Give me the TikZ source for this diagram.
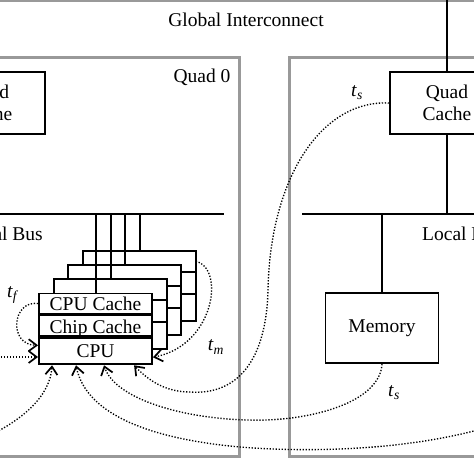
\documentclass[tikz,border=0pt]{standalone}
\usepackage{fontspec}
\setmainfont{Liberation Serif}
\usetikzlibrary{arrows.meta,positioning,calc}
\newcommand{\lat}[1]{\textit{t}\textsubscript{\textit{#1}}}

\begin{document}
\begin{tikzpicture}[x=1pt,y=-1pt,
    every node/.append style={font=\fontsize{19.5}{22}\selectfont,inner sep=0pt},
    box/.style={draw,line width=1.9pt,fill=white,align=center},
    quad/.style={draw=black!40,line width=3pt},
    wire/.style={line width=1.9pt},
    board/.style={box,minimum width=113,outer sep=0pt},
    lat/.style={line width=1.35pt,dash pattern=on 1.3pt off 1.7pt,-{Straight Barb[length=8pt,width=12pt,line width=1.7pt]}}]
    \useasboundingbox (0,0) rectangle (474,474);
    \clip (0,0) rectangle (474,474);

    % global interconnect and the two quads
    \coordinate (giW) at (-5,0.5);
    \coordinate (giE) at (480,0.5);
    \draw[quad] (giW) -- (giE);
    \draw[quad] (-170,57) rectangle (239,456);
    \draw[quad] (289,57) rectangle (698,456);
    \node (gi) at (246,20) {Global Interconnect};
    \node (q0) at (202,77) {Quad 0};

    % local buses
    \coordinate (busLw) at (-156,214);
    \coordinate (busLe) at (224,214);
    \coordinate (busRw) at (302,214);
    \coordinate (busRe) at (684,214);
    \draw[wire] (busLw) -- (busLe);
    \draw[wire] (busRw) -- (busRe);
    \node[anchor=west] (lbL) at (-37,234) {Local Bus};
    \node[anchor=west] (lbR) at (422,234) {Local Bus};

    % quad caches and memory
    \node[box,minimum width=114,minimum height=62] (qcL) at (-12,103) {Quad\\Cache};
    \node[box,minimum width=114,minimum height=62] (qcR) at (447,103) {Quad\\Cache};
    \node[box,minimum width=113,minimum height=70] (mem) at (382,328) {Memory};
    \coordinate (gtop) at (447,-2);
    \draw[wire] (gtop) -- (qcR.north);
    \draw[wire] (qcR.south) -- (qcR.south |- busRw);
    \draw[wire] (mem.north) -- (mem.north |- busRw);

    % processor boards, back to front
    \foreach \k in {3,2,1} {
      \begin{scope}[shift={(14.6*\k,-14.3*\k)}]
        \node[board,minimum height=21] (cc\k) at (95.5,304) {};
        \node[board,minimum height=22,below=0pt of cc\k] (ch\k) {};
        \node[board,minimum height=27,below=0pt of ch\k] (cpu\k) {};
        \coordinate (tap\k) at (96,293.5);
      \end{scope}
    }
    \node[box,minimum width=113,minimum height=20] (cc0) at (95.5,303.5) {CPU Cache};
    \node[box,minimum width=113,minimum height=21,text height=15pt,text depth=0pt,below=0pt of cc0] (ch0) {Chip Cache};
    \node[box,minimum width=113,minimum height=26,below=0pt of ch0] (cpu0) {CPU};
    \coordinate (tap0) at (96,293.5);
    \foreach \k in {0,...,3} \draw[wire] (tap\k) -- (tap\k |- busLe);

    % latencies
    \draw[lat] (cc0.west) .. controls (12,300) and (8,345) .. ($(cpu0.west)+(0,-6)$);
    \coordinate (inL) at (-5,357);
    \draw[lat] (inL) -- (inL -| cpu0.west);
    \draw[lat] (cc3.east) .. controls (225,268) and (215,345) .. ($(cpu0.east)+(0,6)$);
    \coordinate (b1) at ($(cpu0.south west)+(14,0)$);
    \coordinate (b2) at ($(cpu0.south west)+(38,0)$);
    \coordinate (b3) at ($(cpu0.south west)+(66,0)$);
    \coordinate (b4) at ($(cpu0.south west)+(96,0)$);
    \coordinate (inLL) at (-20,440);
    \coordinate (inR) at (485,428);
    \draw[lat] (inLL) .. controls (25,420) and (50,395) .. (b1);
    \draw[lat] (inR) .. controls (400,452) and (300,452) .. (240,447)
        .. controls (140,438) and (85,410) .. (b2);
    \draw[lat] (mem.south) .. controls (380,400) and (320,418) .. (267,420)
        .. controls (190,422) and (115,400) .. (b3);
    \draw[lat] (qcR.west) .. controls (320,100) and (270,180) .. (268,290)
        .. controls (266,370) and (230,395) .. (190,392)
        .. controls (165,392) and (148,380) .. (b4);
    \node (tf) at (13,295) {\lat{f}};
    \node (tm) at (216,347) {\lat{m}};
    \node (ts1) at (357,93) {\lat{s}};
    \node (ts2) at (394,393) {\lat{s}};
\end{tikzpicture}
\end{document}
